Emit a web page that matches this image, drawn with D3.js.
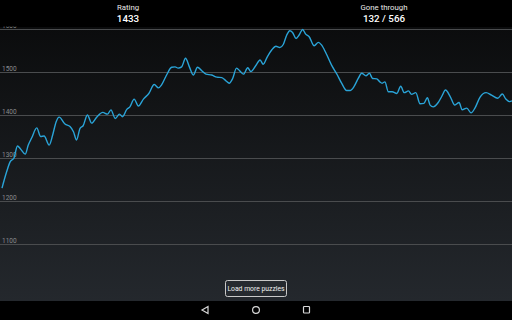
<!DOCTYPE html>
<html><head><meta charset="utf-8">
<script src="https://cdn.jsdelivr.net/npm/d3@7"></script>
<style>html,body{margin:0;padding:0;background:#000;}svg{display:block;}</style>
</head><body>
<svg id="c" width="512" height="320"></svg>
<script>
const games = [0,1.2,2.1,3.1,4.0,4.8,6.0,6.8,7.7,9.0,10.0,10.9,12.2,13.1,14.0,14.8,16.3,17.6,18.5,19.3,20.2,21.0,22.1,23.2,24.5,26.1,27.3,28.2,29.3,30.4,31.2,32.3,33.1,34.2,35.3,36.6,38.0,39.4,40.5,41.3,42.6,43.9,44.8,45.6,46.5,47.5,48.5,49.5,50.6,51.7,52.8,54.3,55.6,56.9,58.0,58.8,59.7,60.7,61.6,62.5,63.6,64.4,65.7,66.8,67.6,68.7,69.8,70.9,71.9,72.8,73.7,74.5,75.2,76.1,76.9,77.8,78.6,79.5,80.8,81.9,82.7,83.9,85.3,86.8,87.9,89.2,90.1,91.1,92.2,93.1,94.2,95.1,95.9,97.0,97.8,98.4,99.1,100.0,101.0,102.2,103.2,104.1,105.2,106.0,107.1,108.2,109.2,110.1,110.8,111.6,112.9,113.8,114.8,116.0,117.2,118.3,119.1,120.3,121.4,122.4,123.7,125.3,126.7,128.3,129.5,130.4,131.4,132];
const ratings = [1230,1268,1291,1300,1328,1321,1309,1330,1347,1370,1350,1351,1330,1353,1384,1395,1379,1373,1361,1342,1369,1375,1400,1381,1395,1406,1402,1412,1392,1402,1396,1413,1419,1437,1421,1437,1450,1471,1463,1470,1493,1511,1512,1509,1512,1532,1512,1493,1511,1503,1495,1493,1488,1487,1479,1474,1485,1509,1502,1495,1510,1501,1515,1528,1518,1536,1551,1560,1557,1564,1586,1596,1592,1578,1586,1599,1588,1582,1561,1569,1563,1543,1516,1493,1474,1457,1457,1466,1485,1497,1491,1497,1485,1484,1477,1474,1477,1454,1454,1450,1467,1452,1456,1448,1452,1426,1427,1440,1423,1419,1429,1443,1458,1443,1423,1429,1412,1416,1405,1416,1441,1452,1446,1439,1449,1437,1431,1433];
const yTicks = [1100,1200,1300,1400,1500,1600];
const headerLabels = ["Rating","Gone through"];
const headerValues = ["1433","132 / 566"];
const buttonText = "Load more puzzles";

const W = 512, H = 320;
const svg = d3.select("#c");
const defs = svg.append("defs");
const grad = defs.append("linearGradient").attr("id","bg").attr("x1",0).attr("y1",0).attr("x2",0).attr("y2",1);
grad.append("stop").attr("offset","0%").attr("stop-color","#0b0c0d");
grad.append("stop").attr("offset","100%").attr("stop-color","#24282d");

svg.append("rect").attr("width",W).attr("height",H).attr("fill","#000");
svg.append("rect").attr("x",0).attr("y",27).attr("width",W).attr("height",274).attr("fill","url(#bg)");

const x = d3.scaleLinear().domain([0,132]).range([2,512]);
const y = d3.scaleLinear().domain([1500,1400]).range([72,115]);

const grid = svg.append("g");
yTicks.forEach(t=>{
  grid.append("line").attr("x1",0).attr("x2",W).attr("y1",Math.round(y(t))+0.5).attr("y2",Math.round(y(t))+0.5)
    .attr("stroke","#4a4c4e").attr("stroke-width",1);
  grid.append("text").attr("x",2).attr("y",Math.round(y(t))-1).text(t)
    .attr("fill","#8a8c8e").attr("font-family","Roboto, sans-serif").attr("font-size",6.5);
});

const line = d3.line().x((d,i)=>x(games[i])).y(d=>y(d)).curve(d3.curveMonotoneX);
svg.append("path").datum(ratings).attr("d",line).attr("fill","none")
  .attr("stroke","#2aa4d8").attr("stroke-width",1.4).attr("stroke-linejoin","round");

// header
svg.append("rect").attr("width",W).attr("height",26.5).attr("fill","#000");
[128,384].forEach((cx,i)=>{
  svg.append("text").attr("x",cx).attr("y",10).attr("text-anchor","middle").text(headerLabels[i])
    .attr("fill","#e8e8e8").attr("font-family","Roboto, sans-serif").attr("font-size",7.8);
  svg.append("text").attr("x",cx).attr("y",22).attr("text-anchor","middle").text(headerValues[i])
    .attr("fill","#ffffff").attr("font-family","Roboto, sans-serif").attr("font-size",9.8).attr("font-weight",500);
});

// button
svg.append("rect").attr("x",225.5).attr("y",280.5).attr("width",61).attr("height",16).attr("rx",2)
  .attr("fill","#262a2f").attr("stroke","#c8c8c8").attr("stroke-width",1);
svg.append("text").attr("x",256).attr("y",291).attr("text-anchor","middle").text(buttonText)
  .attr("fill","#f0f0f0").attr("font-family","Roboto, sans-serif").attr("font-size",6.8);

// nav bar
svg.append("rect").attr("x",0).attr("y",301).attr("width",W).attr("height",19).attr("fill","#000");
const nav = svg.append("g").attr("fill","none").attr("stroke","#d8d8d8").attr("stroke-width",1.2);
nav.append("path").attr("d","M208,306.5 L208,313.5 L202,310 Z");
nav.append("circle").attr("cx",256).attr("cy",310).attr("r",3.4);
nav.append("rect").attr("x",303.5).attr("y",306.5).attr("width",6).attr("height",6.5).attr("rx",0.8);
</script>
</body></html>
